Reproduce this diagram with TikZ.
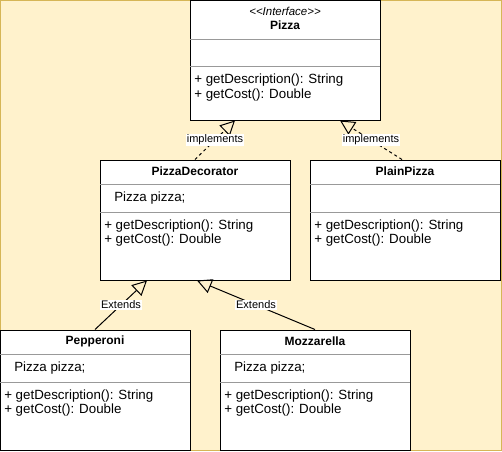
\documentclass[tikz,border=0pt]{standalone}
\usepackage{fontspec}
\setmainfont{Liberation Sans}
\usetikzlibrary{arrows.meta}
\definecolor{bgfill}{HTML}{FFF2CC}
\definecolor{bgline}{HTML}{D6B656}
\definecolor{sepgray}{HTML}{999999}
\begin{document}
\begin{tikzpicture}[x=0.75pt,y=-0.75pt,
  cls/.style={draw=black,fill=white,line width=0.75pt,minimum width=142.5pt,minimum height=90pt,inner sep=0pt},
  sep/.style={draw=sepgray,line width=0.75pt},
  ttl/.style={font=\fontsize{9}{10}\selectfont\bfseries,inner sep=0pt},
  stereo/.style={font=\fontsize{8.6}{10}\selectfont\itshape,inner sep=0pt},
  txt/.style={font=\fontsize{10}{11}\selectfont,anchor=west,inner sep=0pt},
  lbl/.style={font=\fontsize{8.25}{10}\selectfont,fill=white,inner sep=0.8pt},
  impl/.style={draw=black,line width=0.75pt,dash pattern=on 2.25pt off 2.25pt,-{Triangle[open,length=11pt,width=11pt]}},
  ext/.style={draw=black,line width=0.75pt,-{Triangle[open,length=11pt,width=11pt]}}
]
\useasboundingbox (0,0) rectangle (502,451);
\draw[fill=bgfill,draw=bgline,line width=0.75pt] (0.5,0.5) rectangle (501.5,450.5);

% Pizza
\node[cls] (pizza) at (285,60) {};
\draw[sep] (190,39) -- (380,39);
\draw[sep] (190,66) -- (380,66);
\node[stereo] (pizzast) at (285,11) {{<}{<}Interface{>}{>}};
\node[ttl] (pizzat) at (285,25) {Pizza};
\node[txt] (pizzam1) at (194,80) {+ getDescription(): String};
\node[txt] (pizzam2) at (194,95) {+ getCost(): Double};

% PizzaDecorator
\node[cls] (pd) at (195,220) {};
\draw[sep] (100,184) -- (290,184);
\draw[sep] (100,212) -- (290,212);
\node[ttl] (pdt) at (195,171) {PizzaDecorator};
\node[txt] (pda) at (114,198) {Pizza pizza;};
\node[txt] (pdm1) at (104,226) {+ getDescription(): String};
\node[txt] (pdm2) at (104,240) {+ getCost(): Double};

% PlainPizza
\node[cls] (pp) at (405,220) {};
\draw[sep] (310,184) -- (500,184);
\draw[sep] (310,212) -- (500,212);
\node[ttl] (ppt) at (405,171) {PlainPizza};
\node[txt] (ppm1) at (314,226) {+ getDescription(): String};
\node[txt] (ppm2) at (314,240) {+ getCost(): Double};

% Pepperoni
\node[cls] (pep) at (95,390) {};
\draw[sep] (0,354) -- (190,354);
\draw[sep] (0,382) -- (190,382);
\node[ttl] (pept) at (95,341) {Pepperoni};
\node[txt] (pepa) at (14,368) {Pizza pizza;};
\node[txt] (pepm1) at (4,396) {+ getDescription(): String};
\node[txt] (pepm2) at (4,410) {+ getCost(): Double};

% Mozzarella
\node[cls] (moz) at (315,390) {};
\draw[sep] (220,354) -- (410,354);
\draw[sep] (220,382) -- (410,382);
\node[ttl] (mozt) at (315,341) {Mozzarella};
\node[txt] (moza) at (234,368) {Pizza pizza;};
\node[txt] (mozm1) at (224,396) {+ getDescription(): String};
\node[txt] (mozm2) at (224,410) {+ getCost(): Double};

% connectors
\draw[impl] (pd.north) -- node[lbl] {implements} ([xshift=-37.5pt]pizza.south);
\draw[impl] ([xshift=-2.25pt]pp.north) -- node[lbl] {implements} ([xshift=41.25pt]pizza.south);
\draw[ext] (pep.north) -- node[lbl] {Extends} ([xshift=-36pt]pd.south);
\draw[ext] (moz.north) -- node[lbl] {Extends} ([xshift=1.5pt]pd.south);
\end{tikzpicture}
\end{document}
